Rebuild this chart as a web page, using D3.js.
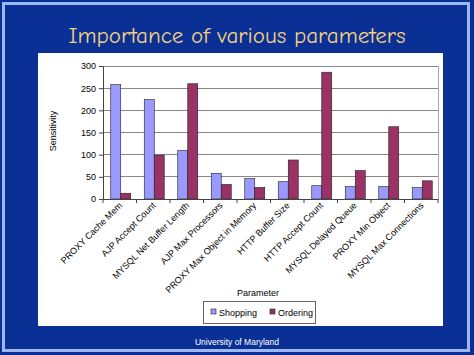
<!DOCTYPE html>
<html><head><meta charset="utf-8">
<script src="https://cdn.jsdelivr.net/npm/d3@7"></script>
<style>html,body{margin:0;padding:0;background:#0a3096;}svg{display:block;}</style>
</head><body>
<svg id="c" width="474" height="355"></svg>
<script>
const categories = ["PROXY Cache Mem","AJP Accept Count","MYSQL Net Buffer Length","AJP Max Processors","PROXY Max Object in Memory","HTTP Buffer Size","HTTP Accept Count","MYSQL Delayed Queue","PROXY Min Object","MYSQL Max Connections"];
const shopping = [258, 224, 109, 58, 46, 39, 30, 28, 28, 26];
const ordering = [13, 99, 260, 33, 26, 88, 286, 64, 163, 41];
const seriesNames = ["Shopping","Ordering"];
const yTicks = [0,50,100,150,200,250,300];

(function(){
const svg = d3.select("#c");
const W = 474, H = 355;
svg.append("rect").attr("width",W).attr("height",H).attr("fill","#0a3096");
svg.append("rect").attr("x",3.5).attr("y",3.5).attr("width",465).attr("height",347)
  .attr("fill","none").attr("stroke","#9fb8f2").attr("stroke-width",3);

svg.append("text").attr("x",237).attr("y",43).attr("text-anchor","middle")
  .attr("font-family","'Comic Sans MS','Comic Neue','Open Sans',sans-serif")
  .attr("font-size",22).attr("fill","#f4d27e")
  .attr("textLength",337).attr("lengthAdjust","spacingAndGlyphs")
  .text("Importance of various parameters");

// white panel
svg.append("rect").attr("x",38).attr("y",53).attr("width",405).attr("height",273).attr("fill","#ffffff");

const pl = 103, pr = 438, pt = 66, pb = 199;
const x = d3.scaleBand().domain(categories).range([pl,pr]).paddingInner(0).paddingOuter(0);
const y = d3.scaleLinear().domain([0,300]).range([pb,pt]);

const g = svg.append("g");
g.selectAll("line.grid").data(yTicks.filter(d=>d>0)).enter().append("line")
  .attr("x1",pl).attr("x2",pr).attr("y1",d=>y(d)).attr("y2",d=>y(d))
  .attr("stroke","#888").attr("stroke-width",1).attr("shape-rendering","crispEdges");
g.append("line").attr("x1",pr).attr("x2",pr).attr("y1",pt).attr("y2",pb)
  .attr("stroke","#aaa").attr("shape-rendering","crispEdges");

const bw = 10;
const rows = categories.map((c,i)=>({c, v:[shopping[i], ordering[i]]}));
const colors = ["#9999ff","#993366"];
rows.forEach(r=>{
  const cx = x(r.c) + x.bandwidth()/2;
  r.v.forEach((v,j)=>{
    g.append("rect").attr("x", cx - bw + j*bw + 1).attr("y", y(v)).attr("width", bw).attr("height", y(0)-y(v))
      .attr("fill", colors[j]).attr("stroke","#222").attr("stroke-width",0.6);
  });
});

const ya = d3.axisLeft(y).tickValues(yTicks).tickSize(4).tickPadding(3);
const yg = svg.append("g").attr("transform",`translate(${pl},0)`).call(ya);
yg.select(".domain").attr("stroke","#444");
yg.selectAll(".tick line").attr("stroke","#444");
yg.selectAll("text").attr("font-family","Arial, 'Liberation Sans', sans-serif").attr("font-size",9).attr("fill","#000");

const xa = d3.axisBottom(x).tickSize(0).tickFormat("");
const xg = svg.append("g").attr("transform",`translate(0,${pb})`).call(xa);
xg.select(".domain").attr("stroke","#444");
xg.selectAll("line.sep").data(d3.range(categories.length+1)).enter().append("line")
  .attr("class","sep").attr("x1",i=>pl + i*x.bandwidth()).attr("x2",i=>pl + i*x.bandwidth())
  .attr("y1",0).attr("y2",4).attr("stroke","#444");
svg.append("g").selectAll("text").data(categories).enter().append("text")
  .attr("transform",d=>`translate(${x(d)+x.bandwidth()/2+3},${pb+7}) rotate(-45)`)
  .attr("text-anchor","end").attr("font-family","Arial, 'Liberation Sans', sans-serif")
  .attr("font-size",9).attr("fill","#000").text(d=>d);

svg.append("text").attr("transform","translate(56,131) rotate(-90)").attr("text-anchor","middle")
  .attr("font-family","Arial, 'Liberation Sans', sans-serif").attr("font-size",9).text("Sensitivity");
svg.append("text").attr("x",258).attr("y",296).attr("text-anchor","middle")
  .attr("font-family","Arial, 'Liberation Sans', sans-serif").attr("font-size",9).text("Parameter");

const lg = svg.append("g");
lg.append("rect").attr("x",203.5).attr("y",301.5).attr("width",112).attr("height",22)
  .attr("fill","#fff").attr("stroke","#666");
const lx = [211, 270];
seriesNames.forEach((n,i)=>{
  lg.append("rect").attr("x",lx[i]).attr("y",309).attr("width",5).attr("height",5)
    .attr("fill",colors[i]).attr("stroke","#222").attr("stroke-width",0.6);
  lg.append("text").attr("x",lx[i]+8).attr("y",316).attr("font-family","Arial, 'Liberation Sans', sans-serif")
    .attr("font-size",9).text(n);
});

svg.append("text").attr("x",237).attr("y",345).attr("text-anchor","middle")
  .attr("font-family","Arial, 'Liberation Sans', sans-serif").attr("font-size",8.5).attr("fill","#fff")
  .text("University of Maryland");
})();
</script>
</body></html>
